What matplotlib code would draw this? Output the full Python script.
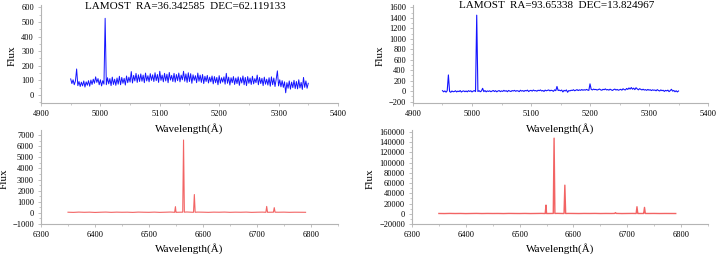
import numpy as np
import matplotlib
matplotlib.use("Agg")
import matplotlib.pyplot as plt
from matplotlib.ticker import AutoMinorLocator, MultipleLocator

plt.rcParams['font.family'] = ['Liberation Serif', 'DejaVu Serif']

# ---- data ----
# blue spectra: 4950-5350 A, 2 A sampling
blue_start, blue_stop, blue_step = 4950, 5350, 2

title_left = "LAMOST  RA=36.342585  DEC=62.119133"
title_right = "LAMOST  RA=93.65338  DEC=13.824967"

flux_tl = [
    110, 78, 104, 70, 96, 178, 64, 92, 58, 88,
    62, 96, 54, 90, 66, 98, 60, 102, 72, 108,
    80, 124, 86, 112, 70, 104, 62, 98, 74, 525,
    70, 118, 76, 112, 64, 122, 72, 108, 66, 116,
    74, 128, 70, 120, 80, 114, 68, 130, 84, 122,
    88, 160, 82, 134, 96, 148, 86, 138, 92, 144,
    94, 136, 84, 150, 96, 132, 90, 146, 100, 138,
    92, 152, 98, 140, 86, 162, 100, 136, 90, 148,
    96, 142, 84, 154, 102, 134, 92, 148, 88, 140,
    98, 150, 90, 136, 104, 162, 94, 144, 86, 152,
    92, 146, 80, 138, 100, 132, 84, 150, 94, 136,
    86, 140, 78, 128, 92, 134, 82, 122, 90, 130,
    76, 126, 84, 120, 70, 132, 80, 118, 88, 124,
    74, 148, 80, 122, 68, 118, 84, 126, 72, 116,
    78, 124, 66, 118, 82, 130, 70, 120, 64, 126,
    80, 116, 72, 128, 76, 112, 84, 136, 70, 120,
    78, 114, 64, 122, 74, 108, 68, 118, 60, 124,
    70, 116, 58, 108, 165, 62, 104, 56, 98, 52,
    90, 15, 84, 46, 96, 40, 88, 50, 100, 44,
    92, 42, 104, 48, 86, 38, 120, 52, 96, 46,
    80,
]

flux_tr = [
    10, -12, 5, -18, 8, 310, -5, -20, 4, -10,
    -6, 8, -14, 2, -8, 12, -16, 0, 6, -10,
    4, -12, 10, -4, 8, -14, 2, 12, -8, 1450,
    -6, 10, -10, 4, 55, -8, 12, -12, 6, -4,
    8, -10, 2, 14, -6, 10, -12, 4, 12, -8,
    6, -4, 16, 0, 10, -10, 14, 2, -6, 12,
    4, 16, -2, 10, 6, -8, 18, 2, 12, -4,
    14, 6, 20, -6, 10, 16, 2, 22, 8, 12,
    0, 18, 10, 24, 4, 14, -4, 20, 8, 16,
    24, 6, 18, 12, -2, 26, 10, 90, 14, 20,
    8, 22, -14, 16, 4, 24, -20, 12, 6, 18,
    14, 28, 8, 20, 30, 12, 26, 16, 32, 18,
    28, 20, 34, 22, 16, 140, 36, 24, 40, 30,
    34, 22, 30, 42, 26, 18, 36, 28, 44, 24,
    32, 20, 38, 26, 14, 30, 40, 22, 34, 18,
    28, 36, 20, 46, 30, 24, 52, 34, 62, 40,
    70, 38, 58, 30, 66, 44, 26, 48, 36, 24,
    38, 22, 30, 16, 34, 20, 28, 12, 26, 18,
    22, 8, 30, 14, 4, 24, 10, 18, -4, 16,
    6, 20, -8, 12, 36, 2, 14, -10, 8, -14,
    4,
]

# red spectra: continuum every 10 A (6350-6790) + emission lines
red_start, red_stop, red_step = 6350, 6790, 10

cont_bl = [
    60, 45, 70, 52, 64, 40, 58, 72, 48, 66,
    55, 62, 44, 70, 58, 50, 68, 46, 60, 74,
    52, 64, 80, 56, 70, 62, 48, 66, 58, 72,
    50, 64, 56, 70, 46, 60, 68, 54, 62, 58,
    66, 50, 60, 56, 52,
]
lines_bl = [6549, 6564, 6584, 6718, 6732]
peaks_bl = [560, 6550, 1650, 580, 470]

cont_br = [
    600, 450, 700, 520, 640, 400, 580, 720, 480, 660,
    550, 620, 440, 700, 580, 500, 680, 460, 600, 740,
    520, 640, 800, 560, 700, 620, 480, 660, 580, 720,
    500, 640, 560, 700, 460, 600, 680, 540, 620, 580,
    660, 500, 600, 560, 520,
]
lines_br = [6549, 6564, 6584, 6678, 6718, 6732]
peaks_br = [17000, 148000, 56000, 2200, 13800, 12500]


def add_lines(wave, cont, lines, peaks):
    # spike = base / peak / base around each line centre
    w = list(wave)
    f = list(cont)
    for c, p in zip(lines, peaks):
        base = cont[int(np.argmin(np.abs(np.asarray(wave) - c)))]
        w += [c - 1.5, c, c + 1.5]
        f += [base, p, base]
    order = np.argsort(w, kind="stable")
    return np.asarray(w)[order], np.asarray(f)[order]


wave_blue = np.arange(blue_start, blue_stop + 1, blue_step)
wave_red = np.arange(red_start, red_stop + 1, red_step)
wbl, fbl = add_lines(wave_red, cont_bl, lines_bl, peaks_bl)
wbr, fbr = add_lines(wave_red, cont_br, lines_br, peaks_br)

# ---- figure ----
fig = plt.figure(figsize=(7.18, 2.54), dpi=100)

ax_tl = fig.add_axes([0.0571, 0.5945, 0.4136, 0.3858])
ax_tr = fig.add_axes([0.5752, 0.5945, 0.4109, 0.3858])
ax_bl = fig.add_axes([0.0571, 0.1181, 0.4136, 0.3701])
ax_br = fig.add_axes([0.5738, 0.1181, 0.4123, 0.3701])

ax_tl.plot(wave_blue, flux_tl, color="#1414ff", lw=0.7)
ax_tr.plot(wave_blue, flux_tr, color="#1414ff", lw=0.8)
ax_bl.plot(wbl, fbl, color="#f26464", lw=0.8)
ax_br.plot(wbr, fbr, color="#f26464", lw=1.0)

ax_tl.set_xlim(4900, 5400)
ax_tr.set_xlim(4900, 5400)
ax_bl.set_xlim(6300, 6850)
ax_br.set_xlim(6300, 6850)

ax_tl.set_ylim(-55, 616)
ax_tr.set_ylim(-225, 1644)
ax_bl.set_ylim(-1000, 7450)
ax_br.set_ylim(-20000, 164000)

ax_tl.yaxis.set_major_locator(MultipleLocator(100))
ax_tr.yaxis.set_major_locator(MultipleLocator(200))
ax_bl.yaxis.set_major_locator(MultipleLocator(1000))
ax_br.yaxis.set_major_locator(MultipleLocator(20000))

# label positions (axes fraction)
ylab_x = {ax_tl: -0.098, ax_tr: -0.112, ax_bl: -0.125, ax_br: -0.142}
xlab_y = {ax_tl: -0.26, ax_tr: -0.26, ax_bl: -0.258, ax_br: -0.258}

for ax in [ax_tl, ax_tr, ax_bl, ax_br]:
    # transparent background so the bottom row does not hide the top xlabels
    ax.patch.set_visible(False)
    ax.xaxis.set_major_locator(MultipleLocator(100))
    ax.xaxis.set_minor_locator(AutoMinorLocator(2))
    ax.yaxis.set_minor_locator(AutoMinorLocator(2))
    for s in ["top", "right"]:
        ax.spines[s].set_visible(False)
    for s in ["left", "bottom"]:
        ax.spines[s].set_color("#b4b4b4")
        ax.spines[s].set_linewidth(0.8)
    ax.tick_params(which="major", direction="out", length=2.5, width=0.6,
                   color="#b4b4b4", labelsize=6.0, pad=2.5)
    ax.tick_params(which="minor", direction="out", length=1.5, width=0.5,
                   color="#b4b4b4")
    ax.set_xlabel("Wavelength(Å)", fontsize=8)
    ax.set_ylabel("Flux", fontsize=8)
    ax.xaxis.label.set_va("center")
    ax.yaxis.label.set_va("center")
    ax.xaxis.set_label_coords(0.5, xlab_y[ax])
    ax.yaxis.set_label_coords(ylab_x[ax], 0.48)

ax_tl.text(0.487, 0.98, title_left, transform=ax_tl.transAxes,
           ha="center", va="center", fontsize=8)
ax_tr.text(0.487, 1.0, title_right, transform=ax_tr.transAxes,
           ha="center", va="center", fontsize=8)

fig.savefig("out.png", dpi=100)
